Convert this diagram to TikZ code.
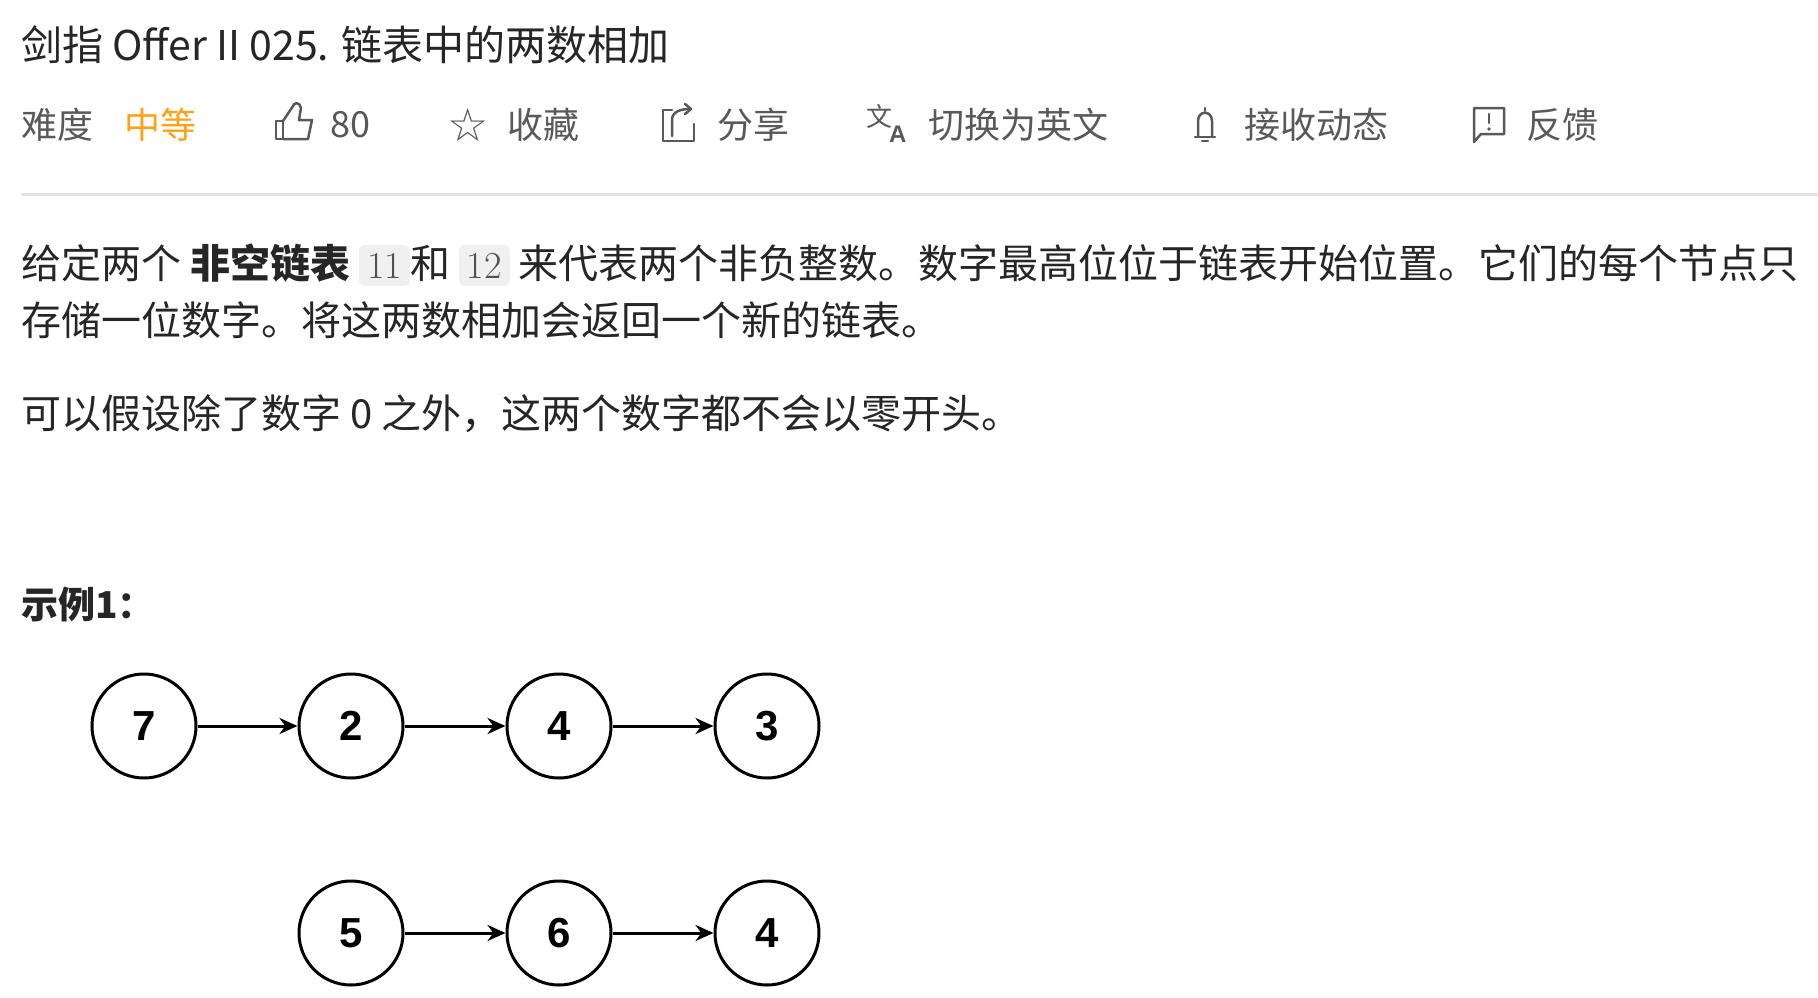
\documentclass[tikz,border=0pt]{standalone}
\usepackage{fontspec}
\setmainfont{Noto Sans CJK SC}
\newfontfamily\numfont{Liberation Sans}
\newfontfamily\djv{DejaVu Sans}
\usetikzlibrary{arrows.meta}
\definecolor{txt}{HTML}{262626}
\definecolor{sub}{HTML}{595959}
\definecolor{orng}{HTML}{FFA116}
\definecolor{codebg}{HTML}{F0F0F0}
\definecolor{sep}{HTML}{E4E4E4}
\newcommand{\codebx}[1]{\tikz[baseline=(cb.base)]\node[fill=codebg,rounded corners=6pt,inner xsep=8pt,inner ysep=8pt,text=txt!80,font=\fontspec{Latin Modern Roman}\fontsize{38}{40}\selectfont] (cb) {#1};}
\begin{document}
\begin{tikzpicture}[x=1pt,y=-1pt,
  lnode/.style={circle,draw=black,line width=3pt,minimum size=104pt,inner sep=0pt,font=\numfont\bfseries\fontsize{42}{44}\selectfont},
  link/.style={line width=3pt,-{Stealth[length=18pt,width=16pt]}},
  txtline/.style={anchor=base west,inner sep=0pt,text=txt,font=\fontsize{40}{44}\selectfont},
  meta/.style={anchor=west,inner sep=0pt,text=sub,font=\fontsize{36}{38}\selectfont},
  ico/.style={draw=sub,line width=2.5pt,line join=round,line cap=round}]
\useasboundingbox[fill=white] (0,0) rectangle (1818,998);
% title
\node[txtline,font=\fontsize{41}{44}\selectfont] (title) at (21,60) {剑指 Offer II 025. 链表中的两数相加};
% meta row
\node[meta] (nd) at (21,125) {难度};
\node[meta,text=orng] (lv) at (124,125) {中等};
\draw[ico] (276,121) rectangle (283,139);
\draw[ico] (283,139) -- (308,139) -- (312,120) -- (299,120) -- (301,108) .. controls (300,102) and (294,102) .. (293,106) -- (283,121);
\node[meta] (likes) at (330,125) {80};
\node[meta,font=\djv\fontsize{46}{48}\selectfont] (star) at (447,125) {☆};
\node[meta] (fav) at (507,125) {收藏};
\draw[ico] (672,110) -- (663,110) -- (663,141) -- (694,141) -- (694,124);
\draw[ico] (672,136) -- (672,120) .. controls (672,112) and (680,109) .. (690,109);
\draw[ico] (685,104) -- (691,109) -- (685,114);
\node[meta] (share) at (717,125) {分享};
\node[meta,font=\fontsize{26}{28}\selectfont] (tr1) at (866,117) {文};
\node[meta,font=\numfont\fontsize{24}{26}\selectfont\bfseries] (tr2) at (889,134) {A};
\node[meta] (trans) at (928,125) {切换为英文};
\draw[ico] (1195,137) -- (1215,137);
\draw[ico] (1198,137) -- (1198,121) .. controls (1198,110) and (1212,110) .. (1212,121) -- (1212,137);
\draw[ico] (1205,111) -- (1205,108);
\draw[ico] (1202,141) -- (1208,141);
\node[meta] (sub) at (1244,125) {接收动态};
\draw[ico] (1474,142) -- (1474,108) -- (1504,108) -- (1504,134) -- (1481,134) -- cycle;
\draw[ico] (1489,114) -- (1489,123);
\fill[sub] (1489,129) circle (1.8pt);
\node[meta] (fb) at (1526,125) {反馈};
% separator
\draw[sep,line width=3pt] (21,194) -- (1818,194);
% paragraph
\node[txtline] (p1) at (21,278) {给定两个 \textbf{非空链表} \codebx{11}和 \codebx{12} 来代表两个非负整数。数字最高位位于链表开始位置。它们的每个节点只};
\node[txtline] (p2) at (21,335) {存储一位数字。将这两数相加会返回一个新的链表。};
\node[txtline] (p3) at (21,428) {可以假设除了数字 0 之外，这两个数字都不会以零开头。};
\node[txtline,font=\fontsize{37}{40}\selectfont\bfseries] (ex) at (21,618) {示例1：};
% lists
\node[lnode] (a1) at (144,726) {7};
\node[lnode] (a2) at (351,726) {2};
\node[lnode] (a3) at (559,726) {4};
\node[lnode] (a4) at (767,726) {3};
\node[lnode] (b1) at (351,933) {5};
\node[lnode] (b2) at (559,933) {6};
\node[lnode] (b3) at (767,933) {4};
\draw[link] (a1) -- (a2);
\draw[link] (a2) -- (a3);
\draw[link] (a3) -- (a4);
\draw[link] (b1) -- (b2);
\draw[link] (b2) -- (b3);
\end{tikzpicture}
\end{document}
